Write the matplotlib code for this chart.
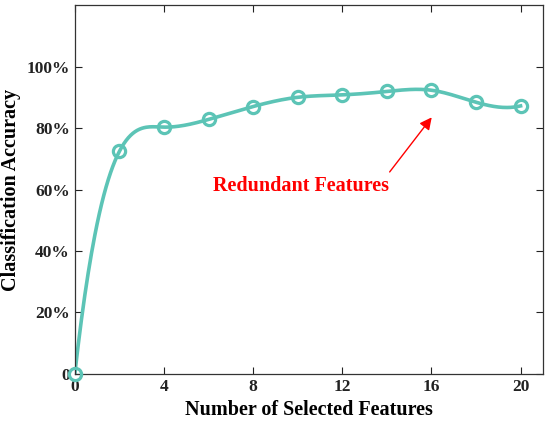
import numpy as np
import matplotlib
matplotlib.use('Agg')
import matplotlib.pyplot as plt
from matplotlib.ticker import FuncFormatter

plt.rcParams['font.family'] = ['Liberation Serif', 'DejaVu Serif']
plt.rcParams['font.weight'] = 'bold'

n_features = [0, 2, 4, 6, 8, 10, 12, 14, 16, 18, 20]
accuracy = [0.0, 0.724, 0.803, 0.828, 0.870, 0.900, 0.908, 0.919, 0.923, 0.884, 0.872]
x_ticks = [0, 4, 8, 12, 16, 20]
y_ticks = [0, 0.2, 0.4, 0.6, 0.8, 1.0]

line_color = '#5cc4b6'


def spline_curve(x, y, num=400):
    # not-a-knot cubic spline (like matlab's spline)
    x = np.asarray(x, float)
    y = np.asarray(y, float)
    n = len(x)
    h = np.diff(x)
    A = np.zeros((n, n))
    b = np.zeros(n)
    for i in range(1, n - 1):
        A[i, i - 1] = h[i - 1]
        A[i, i] = 2 * (h[i - 1] + h[i])
        A[i, i + 1] = h[i]
        b[i] = 6 * ((y[i + 1] - y[i]) / h[i] - (y[i] - y[i - 1]) / h[i - 1])
    A[0, 0], A[0, 1], A[0, 2] = h[1], -(h[0] + h[1]), h[0]
    A[-1, -3], A[-1, -2], A[-1, -1] = h[-1], -(h[-2] + h[-1]), h[-2]
    M = np.linalg.solve(A, b)
    xs = np.linspace(x[0], x[-1], num)
    idx = np.clip(np.searchsorted(x, xs) - 1, 0, n - 2)
    x0, x1 = x[idx], x[idx + 1]
    hh = x1 - x0
    t0, t1 = x1 - xs, xs - x0
    ys = (M[idx] * t0 ** 3 + M[idx + 1] * t1 ** 3) / (6 * hh) \
        + (y[idx] / hh - M[idx] * hh / 6) * t0 \
        + (y[idx + 1] / hh - M[idx + 1] * hh / 6) * t1
    return xs, ys


fig = plt.figure(figsize=(5.5, 4.24), dpi=100)
ax = fig.add_axes([0.136, 0.118, 0.851, 0.870])

xs, ys = spline_curve(n_features, accuracy)
ax.plot(xs, ys, color=line_color, linewidth=2.6, zorder=2)
ax.plot(n_features, accuracy, 'o', markersize=8.8, markerfacecolor='none',
        markeredgecolor=line_color, markeredgewidth=2.3, zorder=3, clip_on=False)

ax.annotate('', xy=(16.09, 0.842), xytext=(14.05, 0.650),
            arrowprops=dict(arrowstyle='-|>', color='#ff0000', lw=1.0,
                            mutation_scale=18))
ax.text(6.18, 0.611, 'Redundant Features', color='#ff0000', fontsize=14.5,
        fontweight='bold', ha='left', va='center')

ax.set_xlim(0, 21)
ax.set_ylim(0, 1.2)
ax.set_xticks(x_ticks)
ax.set_yticks(y_ticks)
ax.yaxis.set_major_formatter(FuncFormatter(lambda v, p: '0' if v == 0 else '%d%%' % round(v * 100)))
ax.tick_params(direction='in', top=True, right=True, labelsize=12.5,
               length=5, width=0.8, colors='#222222')
for s in ax.spines.values():
    s.set_linewidth(0.9)
    s.set_color('#333333')
for lab in ax.get_xticklabels() + ax.get_yticklabels():
    lab.set_fontweight('bold')

ax.set_xlabel('Number of Selected Features', fontsize=14.5, fontweight='bold', labelpad=4)
ax.set_ylabel('Classification Accuracy', fontsize=14.5, fontweight='bold', labelpad=4)

fig.savefig('out.png', dpi=100)
